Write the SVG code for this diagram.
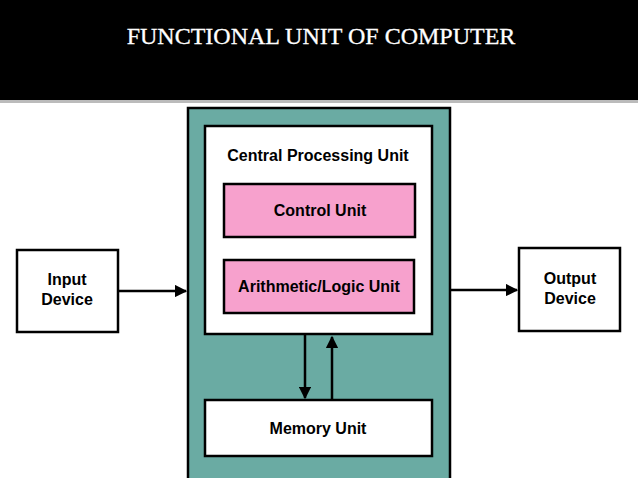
<svg xmlns="http://www.w3.org/2000/svg" width="638" height="478" viewBox="0 0 638 478">
<style>
.b{stroke:#000;stroke-width:2.5}
.w{fill:#fff}
.p{fill:#f7a1cd}
.t{font-family:"Liberation Sans",Arial,sans-serif;font-weight:bold;font-size:16px;fill:#000;text-anchor:middle}
.c{stroke:#000;stroke-width:2.5;fill:none}
</style>
<defs><marker id="a" viewBox="0 0 10 10" refX="9" refY="5" markerWidth="5" markerHeight="5" orient="auto" markerUnits="strokeWidth"><path d="M0,0L10,5L0,10z" fill="#000"/></marker></defs>
<rect width="638" height="478" fill="#fff"/>
<g id="header"><rect width="638" height="100" fill="#000"/><rect y="100" width="638" height="3" fill="#bbb"/>
<text x="321" y="44" font-family="Liberation Serif,serif" font-size="24" fill="#fff" text-anchor="middle" stroke="#fff" stroke-width="0.3">FUNCTIONAL UNIT OF COMPUTER</text></g>
<g id="computer"><rect x="188" y="108" width="262" height="372" fill="#6aaba3" class="b"/></g>
<g id="cpu"><rect x="205" y="126" width="227" height="208" class="b w"/><text class="t" x="318" y="161">Central Processing Unit</text></g>
<g id="control"><rect x="224" y="184" width="191" height="53" class="b p"/><text class="t" x="320" y="216">Control Unit</text></g>
<g id="alu"><rect x="224" y="260" width="190" height="53" class="b p"/><text class="t" x="319" y="292">Arithmetic/Logic Unit</text></g>
<g id="memory"><rect x="205" y="400" width="227" height="56" class="b w"/><text class="t" x="318" y="434">Memory Unit</text></g>
<g id="input"><rect x="17" y="250" width="101" height="82" class="b w"/><text class="t" x="67" y="285">Input</text><text class="t" x="67" y="305">Device</text></g>
<g id="output"><rect x="519" y="248" width="101" height="83" class="b w"/><text class="t" x="570" y="284">Output</text><text class="t" x="570" y="304">Device</text></g>
<g id="connectors">
<line class="c" x1="118" y1="291" x2="186" y2="291" marker-end="url(#a)"/>
<line class="c" x1="451" y1="290" x2="517" y2="290" marker-end="url(#a)"/>
<line class="c" x1="305" y1="335" x2="305" y2="398" marker-end="url(#a)"/>
<line class="c" x1="332" y1="399" x2="332" y2="337" marker-end="url(#a)"/>
</g>
</svg>
